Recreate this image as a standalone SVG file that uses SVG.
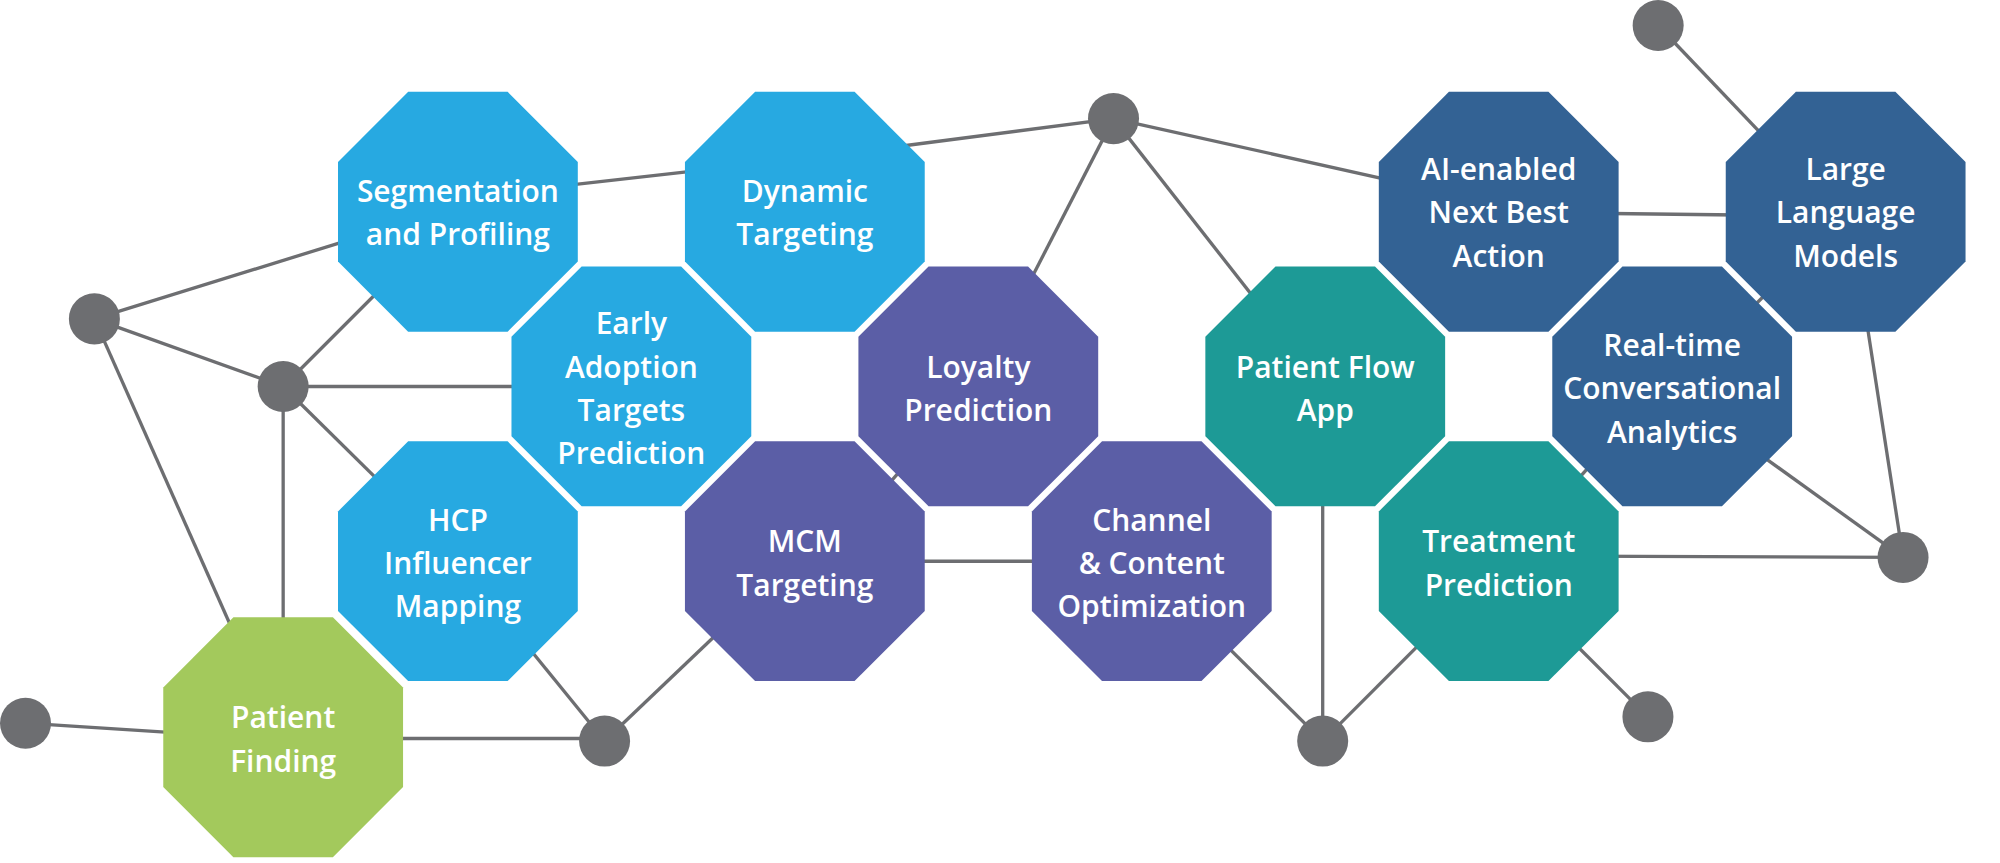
<svg xmlns="http://www.w3.org/2000/svg" xmlns:xlink="http://www.w3.org/1999/xlink" width="2000" height="863" viewBox="0 0 2000 863">
<style>
.l{stroke:#6d6e71;stroke-width:2.6;fill:none}
.d{fill:#6d6e71}
.t{font-family:"Open Sans","Liberation Sans",sans-serif;font-weight:600;font-size:23.5px;fill:#fff;text-anchor:middle}
.lb{fill:#27a9e1}.pu{fill:#5b5ea6}.te{fill:#1d9a96}.db{fill:#336294}.gr{fill:#a3c95c}
</style>
<defs><polygon id="o" points="-94,-39 -39,-94 39,-94 94,-39 94,39 39,94 -39,94 -94,39"/></defs>
<rect width="2000" height="863" fill="#fff"/>
<g transform="scale(1.2755)">
<g id="connectors">
<line class="l" x1="74" y1="250" x2="300" y2="180"/>
<line class="l" x1="74" y1="250" x2="222" y2="303"/>
<line class="l" x1="74" y1="250" x2="185" y2="500"/>
<line class="l" x1="222" y1="303" x2="300" y2="225"/>
<line class="l" x1="222" y1="303" x2="420" y2="303"/>
<line class="l" x1="222" y1="303" x2="300" y2="380"/>
<line class="l" x1="222" y1="303" x2="222" y2="500"/>
<line class="l" x1="420" y1="148" x2="580" y2="130"/>
<line class="l" x1="680" y1="118" x2="873" y2="93"/>
<line class="l" x1="873" y1="93" x2="800" y2="235"/>
<line class="l" x1="873" y1="93" x2="1000" y2="255"/>
<line class="l" x1="873" y1="93" x2="1120" y2="148"/>
<line class="l" x1="1230" y1="167" x2="1400" y2="169"/>
<line class="l" x1="1300" y1="20" x2="1400" y2="125"/>
<line class="l" x1="1460" y1="230" x2="1492" y2="437"/>
<line class="l" x1="1360" y1="342" x2="1492" y2="437"/>
<line class="l" x1="1230" y1="436" x2="1492" y2="437"/>
<line class="l" x1="1400" y1="215" x2="1360" y2="255"/>
<line class="l" x1="1260" y1="350" x2="1220" y2="395"/>
<line class="l" x1="740" y1="330" x2="670" y2="410"/>
<line class="l" x1="680" y1="440" x2="850" y2="440"/>
<line class="l" x1="400" y1="490" x2="474" y2="581"/>
<line class="l" x1="260" y1="579" x2="474" y2="579"/>
<line class="l" x1="474" y1="581" x2="580" y2="480"/>
<line class="l" x1="20" y1="567" x2="160" y2="576"/>
<line class="l" x1="940" y1="485" x2="1037" y2="581"/>
<line class="l" x1="1037" y1="360" x2="1037" y2="581"/>
<line class="l" x1="1037" y1="581" x2="1140" y2="478"/>
<line class="l" x1="1210" y1="480" x2="1292" y2="562"/>
</g>
<g id="dots">
<circle class="d" cx="1300" cy="20" r="20"/>
<circle class="d" cx="873" cy="93" r="20"/>
<circle class="d" cx="74" cy="250" r="20"/>
<circle class="d" cx="222" cy="303" r="20"/>
<circle class="d" cx="20" cy="567" r="20"/>
<circle class="d" cx="474" cy="581" r="20"/>
<circle class="d" cx="1037" cy="581" r="20"/>
<circle class="d" cx="1292" cy="562" r="20"/>
<circle class="d" cx="1492" cy="437" r="20"/>
</g>
<g id="seg"><use href="#o" class="lb" x="359" y="166"/><text class="t" x="359" y="158">Segmentation</text><text class="t" x="359" y="192">and Profiling</text></g>
<g id="dyn"><use href="#o" class="lb" x="631" y="166"/><text class="t" x="631" y="158">Dynamic</text><text class="t" x="631" y="192">Targeting</text></g>
<g id="early"><use href="#o" class="lb" x="495" y="303"/><text class="t" x="495" y="262">Early</text><text class="t" x="495" y="296">Adoption</text><text class="t" x="495" y="330">Targets</text><text class="t" x="495" y="364">Prediction</text></g>
<g id="hcp"><use href="#o" class="lb" x="359" y="440"/><text class="t" x="359" y="416">HCP</text><text class="t" x="359" y="450">Influencer</text><text class="t" x="359" y="484">Mapping</text></g>
<g id="loyalty"><use href="#o" class="pu" x="767" y="303"/><text class="t" x="767" y="296">Loyalty</text><text class="t" x="767" y="330">Prediction</text></g>
<g id="mcm"><use href="#o" class="pu" x="631" y="440"/><text class="t" x="631" y="433">MCM</text><text class="t" x="631" y="467">Targeting</text></g>
<g id="channel"><use href="#o" class="pu" x="903" y="440"/><text class="t" x="903" y="416">Channel</text><text class="t" x="903" y="450">&amp; Content</text><text class="t" x="903" y="484">Optimization</text></g>
<g id="pf"><use href="#o" class="gr" x="222" y="578"/><text class="t" x="222" y="571">Patient</text><text class="t" x="222" y="605">Finding</text></g>
<g id="flow"><use href="#o" class="te" x="1039" y="303"/><text class="t" x="1039" y="296">Patient Flow</text><text class="t" x="1039" y="330">App</text></g>
<g id="treat"><use href="#o" class="te" x="1175" y="440"/><text class="t" x="1175" y="433">Treatment</text><text class="t" x="1175" y="467">Prediction</text></g>
<g id="nba"><use href="#o" class="db" x="1175" y="166"/><text class="t" x="1175" y="141">AI-enabled</text><text class="t" x="1175" y="175">Next Best</text><text class="t" x="1175" y="209">Action</text></g>
<g id="llm"><use href="#o" class="db" x="1447" y="166"/><text class="t" x="1447" y="141">Large</text><text class="t" x="1447" y="175">Language</text><text class="t" x="1447" y="209">Models</text></g>
<g id="rt"><use href="#o" class="db" x="1311" y="303"/><text class="t" x="1311" y="279">Real-time</text><text class="t" x="1311" y="313">Conversational</text><text class="t" x="1311" y="347">Analytics</text></g>
</g>
</svg>
